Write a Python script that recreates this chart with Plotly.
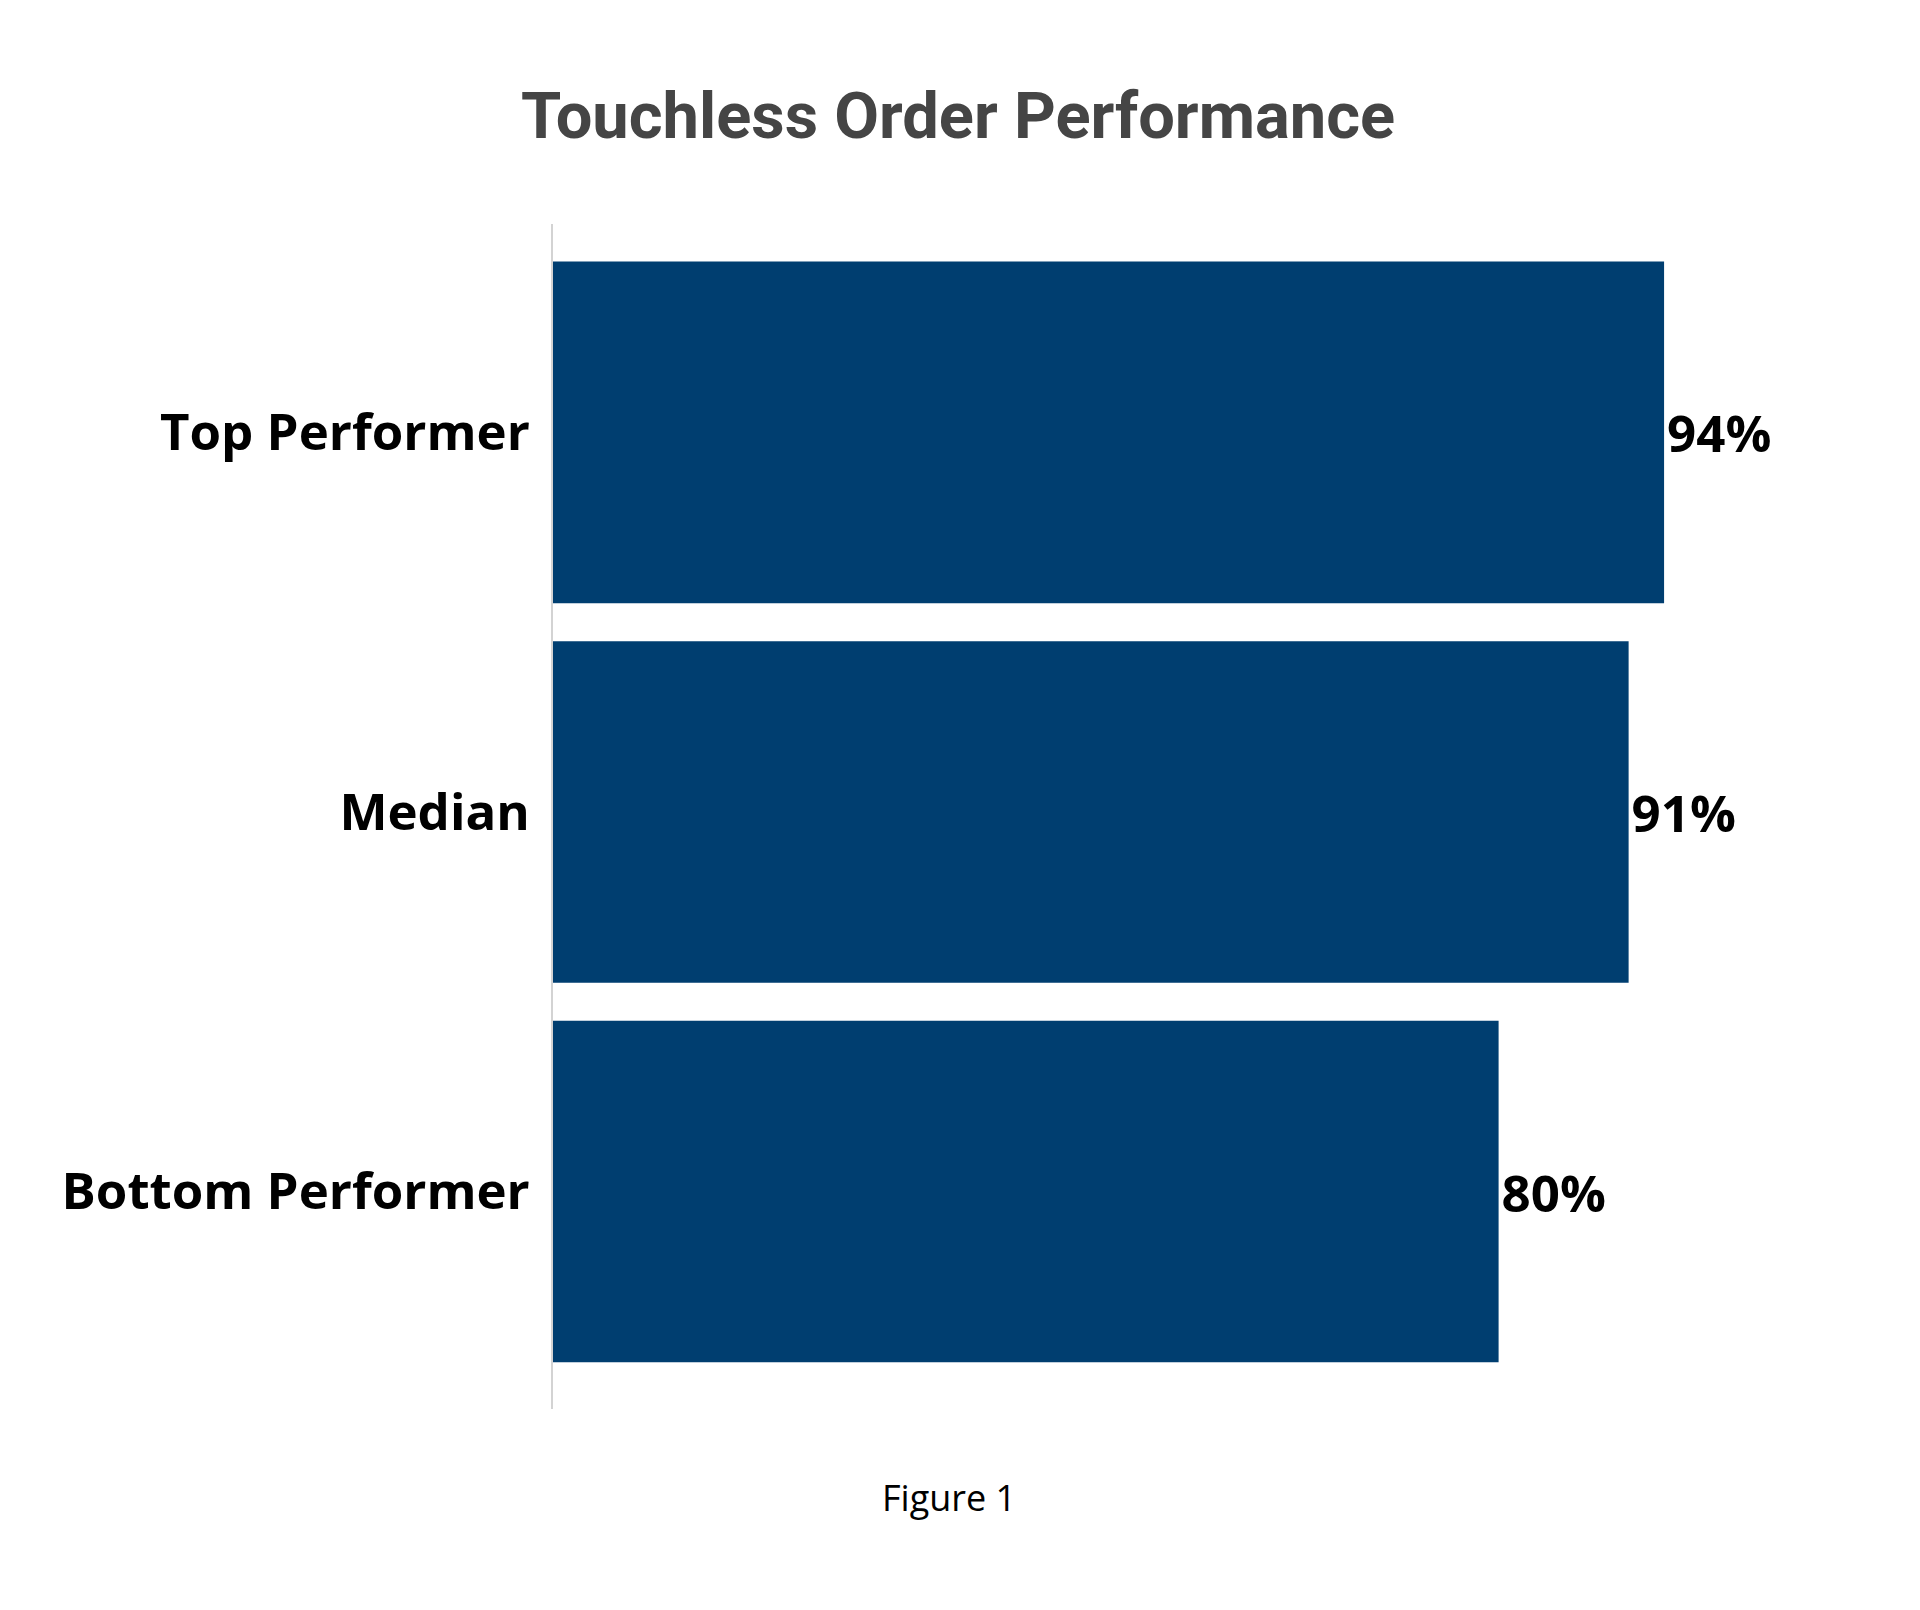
import plotly.graph_objects as go

# Chart data
categories = ['Top Performer', 'Median', 'Bottom Performer']
values = [94, 91, 80]
value_labels = ['94%', '91%', '80%']

title_text = 'Touchless Order Performance'
caption_text = 'Figure 1'

bar_color = '#003E70'
label_font = 'Open Sans'

fig = go.Figure(
    data=go.Bar(
        x=values, y=categories, orientation='h',
        text=value_labels, textposition='outside', cliponaxis=False,
        textfont=dict(family=label_font, size=51, color='#000000', weight='bold'),
        marker=dict(color=bar_color, line=dict(width=0)),
        hoverinfo='skip'))

# Axes
fig.update_xaxes(
    range=[0, 100], showgrid=False, zeroline=False, showline=False,
    showticklabels=False, ticks='')
fig.update_yaxes(
    categoryorder='array', categoryarray=categories,
    range=[2.573, -0.549], showgrid=False, zeroline=False,
    showline=True, linecolor='#D3D3D3', linewidth=2,
    ticks='', ticklabelstandoff=11,
    tickfont=dict(family=label_font, size=51, color='#000000', weight='bold'))

# Layout
fig.update_layout(
    width=1920, height=1610, autosize=False,
    template='simple_white', bargap=0.1,
    plot_bgcolor='white', paper_bgcolor='white',
    margin=dict(l=545, r=193, t=216, b=209, autoexpand=False),
    title=dict(
        text=title_text, x=0.4948, xref='container', xanchor='center',
        y=1 - 107 / 1610, yref='container', yanchor='middle',
        font=dict(family='Roboto, sans-serif', size=65,
                  color='#454545', weight='bold')),
    showlegend=False)

fig.add_annotation(
    text=caption_text, xref='paper', yref='paper',
    x=0.3351, y=-0.0743,
    xanchor='center', yanchor='middle', showarrow=False,
    font=dict(family=label_font, size=36, color='#000000'))

fig.write_html('out.html')
